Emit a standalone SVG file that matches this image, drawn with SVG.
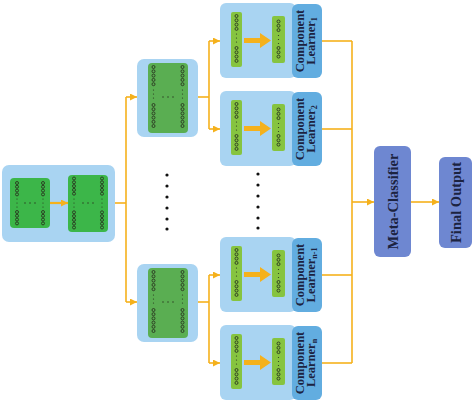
<svg xmlns="http://www.w3.org/2000/svg" xmlns:xlink="http://www.w3.org/1999/xlink" width="474" height="405" viewBox="0 0 474 405">
<style>
.lb{fill:#a9d4f2}
.cl{fill:#62ade0}
.mc{fill:#6e87d1}
.g1{fill:#3cb649}
.g2{fill:#5aae52}
.g3{fill:#86c440}
.n{fill:none;stroke:#2a3520;stroke-width:0.9}
.d{fill:#2a3520}
.bd{fill:#111}
.c{fill:none;stroke:#f5b11c;stroke-width:1.6}
.ba{fill:#f5b11c}
.t{font-family:"Liberation Serif","Times New Roman",serif;font-weight:bold;fill:#1c2340}
.ct{font-size:12.5px}
.mt{font-size:14.5px}
</style>
<defs>
<marker id="ah" viewBox="0 0 8 8" refX="8" refY="4" markerWidth="7" markerHeight="7" markerUnits="userSpaceOnUse" orient="auto">
<path d="M0 0 L8 4 L0 8 Z" fill="#f5b11c"/>
</marker>
<g id="n4"><circle class="n" cx="0" cy="0" r="1.5"/><circle class="n" cx="0" cy="3.8" r="1.5"/><circle class="n" cx="0" cy="7.6" r="1.5"/><circle class="n" cx="0" cy="11.4" r="1.5"/></g>
<g id="n5"><circle class="n" cx="0" cy="0" r="1.5"/><circle class="n" cx="0" cy="3.8" r="1.5"/><circle class="n" cx="0" cy="7.6" r="1.5"/><circle class="n" cx="0" cy="11.4" r="1.5"/><circle class="n" cx="0" cy="15.2" r="1.5"/></g>
<g id="n3"><circle class="n" cx="0" cy="0" r="1.5"/><circle class="n" cx="0" cy="4.3" r="1.5"/><circle class="n" cx="0" cy="8.6" r="1.5"/></g>
<g id="k4"><circle class="n" cx="0" cy="0" r="1.5"/><circle class="n" cx="0" cy="4.3" r="1.5"/><circle class="n" cx="0" cy="8.6" r="1.5"/><circle class="n" cx="0" cy="12.9" r="1.5"/></g>
<g id="m5"><circle class="n" cx="0" cy="0" r="1.5"/><circle class="n" cx="0" cy="4.3" r="1.5"/><circle class="n" cx="0" cy="8.6" r="1.5"/><circle class="n" cx="0" cy="12.9" r="1.5"/><circle class="n" cx="0" cy="17.2" r="1.5"/></g>
<g id="m6"><circle class="n" cx="0" cy="0" r="1.5"/><circle class="n" cx="0" cy="4.2" r="1.5"/><circle class="n" cx="0" cy="8.4" r="1.5"/><circle class="n" cx="0" cy="12.6" r="1.5"/><circle class="n" cx="0" cy="16.8" r="1.5"/><circle class="n" cx="0" cy="21" r="1.5"/></g>
<g id="vd"><circle class="d" cx="0" cy="0" r="0.6"/><circle class="d" cx="0" cy="4" r="0.6"/><circle class="d" cx="0" cy="8" r="0.6"/></g>
<g id="hd"><circle class="d" cx="0" cy="0" r="0.7"/><circle class="d" cx="5" cy="0" r="0.7"/><circle class="d" cx="10" cy="0" r="0.7"/></g>
<g id="midgreen">
<rect class="g2" x="0" y="0" width="40" height="70" rx="4"/>
<use href="#m5" x="5.5" y="4"/><use href="#vd" x="5.5" y="27"/><use href="#m6" x="5.5" y="42"/>
<use href="#m5" x="34.5" y="4"/><use href="#vd" x="34.5" y="27"/><use href="#m6" x="34.5" y="42"/>
<use href="#hd" x="15" y="34"/>
</g>
<g id="lbody">
<rect class="lb" x="220" y="0" width="76" height="75" rx="6"/>
<rect class="cl" x="292" y="1" width="30" height="74" rx="6"/>
<rect class="g3" x="231" y="9" width="11" height="55" rx="2"/>
<use href="#k4" x="236.5" y="13"/><use href="#vd" x="236.5" y="31"/><use href="#k4" x="236.5" y="45"/>
<rect class="g3" x="272" y="13" width="13" height="47" rx="2"/>
<use href="#n3" x="278.5" y="18.5"/><use href="#vd" x="278.5" y="32.5"/><use href="#n3" x="278.5" y="45"/>
<path class="ba" d="M244 35 H260 V30 L271 37.5 L260 45 V40 H244 Z"/>
</g>
</defs>

<g id="input-block">
<rect class="lb" x="2" y="165" width="113" height="77" rx="7"/>
<rect class="g1" x="10" y="178" width="40" height="50" rx="4"/>
<use href="#n4" x="17" y="183"/><use href="#vd" x="17" y="199"/><use href="#n4" x="17" y="212"/>
<use href="#n4" x="43" y="183"/><use href="#vd" x="43" y="199"/><use href="#n4" x="43" y="212"/>
<use href="#hd" x="25" y="203"/>
<rect class="g1" x="68" y="175" width="40" height="57" rx="4"/>
<use href="#n5" x="74" y="178.5"/><use href="#vd" x="74" y="199"/><use href="#n5" x="74" y="212.3"/>
<use href="#n5" x="102" y="178.5"/><use href="#vd" x="102" y="199"/><use href="#n5" x="102" y="212.3"/>
<use href="#hd" x="83" y="203"/>
</g>

<g id="mid-top">
<rect class="lb" x="137" y="59" width="61" height="78" rx="7"/>
<use href="#midgreen" x="148" y="63"/>
</g>
<g id="mid-bottom">
<rect class="lb" x="137" y="264" width="61" height="78" rx="7"/>
<use href="#midgreen" x="148" y="268"/>
</g>

<g id="ellipsis">
<circle class="bd" cx="167" cy="175" r="1.6"/><circle class="bd" cx="167" cy="186" r="1.6"/><circle class="bd" cx="167" cy="197" r="1.6"/><circle class="bd" cx="167" cy="208" r="1.6"/><circle class="bd" cx="167" cy="219" r="1.6"/><circle class="bd" cx="167" cy="229" r="1.6"/>
<circle class="bd" cx="258" cy="174" r="1.6"/><circle class="bd" cx="258" cy="185" r="1.6"/><circle class="bd" cx="258" cy="196" r="1.6"/><circle class="bd" cx="258" cy="207" r="1.6"/><circle class="bd" cx="258" cy="218" r="1.6"/><circle class="bd" cx="258" cy="228" r="1.6"/>
</g>

<g id="learner-1" transform="translate(0 3)">
<use href="#lbody"/>
<text class="t ct" transform="translate(307 38) rotate(-90)" text-anchor="middle"><tspan x="0" y="-2.7">Component</tspan><tspan x="0" y="8.3">Learner<tspan font-size="8" dy="2">1</tspan></tspan></text>
</g>
<g id="learner-2" transform="translate(0 91)">
<use href="#lbody"/>
<text class="t ct" transform="translate(307 38) rotate(-90)" text-anchor="middle"><tspan x="0" y="-2.7">Component</tspan><tspan x="0" y="8.3">Learner<tspan font-size="8" dy="2">2</tspan></tspan></text>
</g>
<g id="learner-n-1" transform="translate(0 237)">
<use href="#lbody"/>
<text class="t ct" transform="translate(307 38) rotate(-90)" text-anchor="middle"><tspan x="0" y="-2.7">Component</tspan><tspan x="0" y="8.3">Learner<tspan font-size="8" dy="2">n-1</tspan></tspan></text>
</g>
<g id="learner-n" transform="translate(0 325)">
<use href="#lbody"/>
<text class="t ct" transform="translate(307 38) rotate(-90)" text-anchor="middle"><tspan x="0" y="-2.7">Component</tspan><tspan x="0" y="8.3">Learner<tspan font-size="8" dy="2">n</tspan></tspan></text>
</g>

<g id="meta-classifier">
<rect class="mc" x="374" y="146" width="37" height="111" rx="6"/>
<text class="t mt" transform="translate(392.5 201.5) rotate(-90)" text-anchor="middle" x="0" y="5">Meta-Classifier</text>
</g>
<g id="final-output">
<rect class="mc" x="439" y="157" width="33" height="91" rx="6"/>
<text class="t mt" transform="translate(455.5 202.5) rotate(-90)" text-anchor="middle" x="0" y="5.5">Final Output</text>
</g>

<g id="connectors" class="c">
<path d="M50 203 H68" stroke-width="2.2" marker-end="url(#ah)"/>
<path d="M115 203 H126"/>
<path d="M126 97 V302"/>
<path d="M126 97 H137" marker-end="url(#ah)"/>
<path d="M126 302 H137" marker-end="url(#ah)"/>
<path d="M198 97 H209"/>
<path d="M209 41 V129"/>
<path d="M209 41 H220" marker-end="url(#ah)"/>
<path d="M209 129 H220" marker-end="url(#ah)"/>
<path d="M198 302 H209"/>
<path d="M209 275 V363"/>
<path d="M209 275 H220" marker-end="url(#ah)"/>
<path d="M209 363 H220" marker-end="url(#ah)"/>
<path d="M322 41 H352"/>
<path d="M322 129 H352"/>
<path d="M322 275 H352"/>
<path d="M322 363 H352"/>
<path d="M352 41 V363"/>
<path d="M352 202 H374" marker-end="url(#ah)"/>
<path d="M411 202 H439" marker-end="url(#ah)"/>
</g>
</svg>
